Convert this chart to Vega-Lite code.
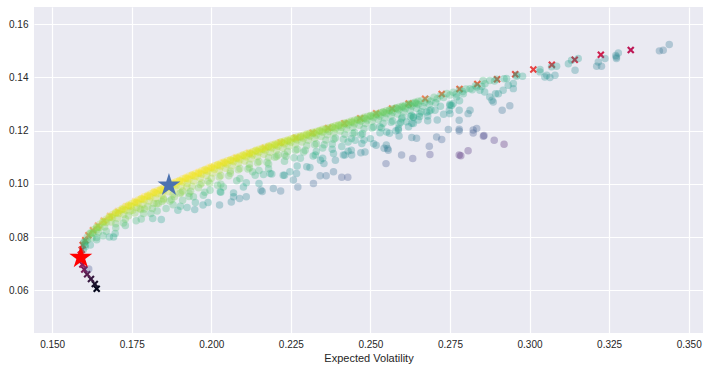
{
"$schema":"https://vega.github.io/schema/vega-lite/v6.json",
"width":669,"height":326,
"autosize":{"type":"none"},
"padding":{"left":34,"top":7,"right":7,"bottom":37},
"background":"white",
"config":{
"view":{"fill":"#EAEAF2","stroke":null},
"font":"Liberation Sans",
"axis":{"domain":false,"ticks":false,"grid":true,"gridColor":"white","gridWidth":1.2,"labelColor":"#262626","labelFontSize":10,"labelFont":"Liberation Sans","titleFont":"Liberation Sans","titleColor":"#262626","titleFontSize":11,"titleFontWeight":"normal"}
},
"datasets":{
"ef":[
{"v":0.1640,"r":0.0605,"s":0.369},{"v":0.1634,"r":0.0623,"s":0.381},{"v":0.1622,"r":0.0642,"s":0.396},{"v":0.1610,"r":0.0660,"s":0.410},{"v":0.1601,"r":0.0678,"s":0.4235},{"v":0.1595,"r":0.0697,"s":0.437},{"v":0.1591,"r":0.0715,"s":0.449},{"v":0.1590,"r":0.0733,"s":0.461},{"v":0.1593,"r":0.0752,"s":0.472},{"v":0.1596,"r":0.0770,"s":0.482},
{"v":0.1604,"r":0.0788,"s":0.491},{"v":0.1614,"r":0.0807,"s":0.500},{"v":0.1628,"r":0.0825,"s":0.507},{"v":0.1644,"r":0.0843,"s":0.513},{"v":0.1662,"r":0.0862,"s":0.519},{"v":0.1682,"r":0.0880,"s":0.523},{"v":0.1707,"r":0.0898,"s":0.526},{"v":0.1733,"r":0.0917,"s":0.529},{"v":0.1761,"r":0.0935,"s":0.531},{"v":0.1789,"r":0.0953,"s":0.533},
{"v":0.1822,"r":0.0972,"s":0.533},{"v":0.1855,"r":0.0990,"s":0.534},{"v":0.1889,"r":0.1008,"s":0.534},{"v":0.1925,"r":0.1027,"s":0.5335},{"v":0.1960,"r":0.1045,"s":0.533},{"v":0.1996,"r":0.1063,"s":0.5326},{"v":0.2038,"r":0.1082,"s":0.531},{"v":0.2078,"r":0.1100,"s":0.529},{"v":0.2118,"r":0.1118,"s":0.528},{"v":0.2168,"r":0.1137,"s":0.5245},
{"v":0.2217,"r":0.1155,"s":0.521},{"v":0.2266,"r":0.1173,"s":0.5177},{"v":0.2318,"r":0.1192,"s":0.514},{"v":0.2367,"r":0.1210,"s":0.511},{"v":0.2418,"r":0.1228,"s":0.508},{"v":0.2468,"r":0.1247,"s":0.505},{"v":0.2518,"r":0.1265,"s":0.502},{"v":0.2568,"r":0.1283,"s":0.4996},{"v":0.2620,"r":0.1302,"s":0.497},{"v":0.2672,"r":0.1320,"s":0.494},
{"v":0.2724,"r":0.1338,"s":0.491},{"v":0.2780,"r":0.1357,"s":0.488},{"v":0.2836,"r":0.1375,"s":0.485},{"v":0.2898,"r":0.1393,"s":0.481},{"v":0.2955,"r":0.1412,"s":0.478},{"v":0.3012,"r":0.1430,"s":0.475},{"v":0.3070,"r":0.1448,"s":0.4717},{"v":0.3142,"r":0.1467,"s":0.467},{"v":0.3224,"r":0.1485,"s":0.4606},{"v":0.3318,"r":0.1503,"s":0.453}
],
"pts":[
{"v":0.160,"r":0.0778,"s":0.486},{"v":0.162,"r":0.0812,"s":0.501},{"v":0.164,"r":0.0835,"s":0.509},{"v":0.166,"r":0.0856,"s":0.516},{"v":0.168,"r":0.0873,"s":0.520},{"v":0.170,"r":0.0890,"s":0.524},{"v":0.172,"r":0.0903,"s":0.525},{"v":0.174,"r":0.0918,"s":0.528},{"v":0.176,"r":0.0929,"s":0.528},{"v":0.178,"r":0.0943,"s":0.530},
{"v":0.180,"r":0.0953,"s":0.529},{"v":0.182,"r":0.0967,"s":0.531},{"v":0.184,"r":0.0976,"s":0.530},{"v":0.186,"r":0.0990,"s":0.532},{"v":0.188,"r":0.0999,"s":0.531},{"v":0.190,"r":0.1011,"s":0.532},{"v":0.192,"r":0.1020,"s":0.531},{"v":0.194,"r":0.1032,"s":0.532},{"v":0.196,"r":0.1040,"s":0.531},{"v":0.198,"r":0.1052,"s":0.531},
{"v":0.200,"r":0.1060,"s":0.530},{"v":0.202,"r":0.1071,"s":0.530},{"v":0.204,"r":0.1078,"s":0.528},{"v":0.206,"r":0.1089,"s":0.529},{"v":0.208,"r":0.1096,"s":0.527},{"v":0.210,"r":0.1107,"s":0.527},{"v":0.212,"r":0.1113,"s":0.525},{"v":0.214,"r":0.1124,"s":0.525},{"v":0.216,"r":0.1130,"s":0.523},{"v":0.218,"r":0.1140,"s":0.523},
{"v":0.220,"r":0.1146,"s":0.521},{"v":0.222,"r":0.1156,"s":0.521},{"v":0.224,"r":0.1161,"s":0.518},{"v":0.226,"r":0.1171,"s":0.518},{"v":0.228,"r":0.1176,"s":0.516},{"v":0.230,"r":0.1185,"s":0.515},{"v":0.232,"r":0.1190,"s":0.513},{"v":0.234,"r":0.1199,"s":0.512},{"v":0.236,"r":0.1204,"s":0.510},{"v":0.238,"r":0.1213,"s":0.510},
{"v":0.240,"r":0.1218,"s":0.508},{"v":0.242,"r":0.1227,"s":0.507},{"v":0.244,"r":0.1232,"s":0.505},{"v":0.246,"r":0.1241,"s":0.504},{"v":0.248,"r":0.1246,"s":0.502},{"v":0.250,"r":0.1255,"s":0.502},{"v":0.252,"r":0.1260,"s":0.500},{"v":0.254,"r":0.1269,"s":0.500},{"v":0.256,"r":0.1275,"s":0.498},{"v":0.258,"r":0.1284,"s":0.498},
{"v":0.260,"r":0.1289,"s":0.496},{"v":0.262,"r":0.1298,"s":0.495},{"v":0.264,"r":0.1303,"s":0.494},{"v":0.266,"r":0.1312,"s":0.493},{"v":0.268,"r":0.1317,"s":0.491},{"v":0.270,"r":0.1326,"s":0.491},{"v":0.272,"r":0.1331,"s":0.489},{"v":0.274,"r":0.1340,"s":0.489},{"v":0.276,"r":0.1344,"s":0.487},{"v":0.278,"r":0.1353,"s":0.487},
{"v":0.280,"r":0.1357,"s":0.485},{"v":0.283,"r":0.1369,"s":0.484},{"v":0.286,"r":0.1376,"s":0.481},{"v":0.289,"r":0.1387,"s":0.480},{"v":0.292,"r":0.1395,"s":0.478},{"v":0.296,"r":0.1409,"s":0.476},
{"v":0.161,"r":0.0788,"s":0.489},{"v":0.163,"r":0.0815,"s":0.500},{"v":0.165,"r":0.0837,"s":0.507},{"v":0.167,"r":0.0855,"s":0.512},{"v":0.169,"r":0.0872,"s":0.516},{"v":0.171,"r":0.0888,"s":0.519},{"v":0.173,"r":0.0901,"s":0.521},{"v":0.175,"r":0.0915,"s":0.523},{"v":0.177,"r":0.0927,"s":0.524},{"v":0.179,"r":0.0940,"s":0.525},
{"v":0.181,"r":0.0950,"s":0.525},{"v":0.183,"r":0.0963,"s":0.526},{"v":0.185,"r":0.0973,"s":0.526},{"v":0.187,"r":0.0986,"s":0.527},{"v":0.189,"r":0.0995,"s":0.526},{"v":0.191,"r":0.1007,"s":0.527},{"v":0.193,"r":0.1016,"s":0.526},{"v":0.195,"r":0.1028,"s":0.527},{"v":0.197,"r":0.1036,"s":0.526},{"v":0.199,"r":0.1047,"s":0.526},
{"v":0.201,"r":0.1055,"s":0.525},{"v":0.203,"r":0.1066,"s":0.525},{"v":0.205,"r":0.1074,"s":0.524},{"v":0.207,"r":0.1084,"s":0.524},{"v":0.209,"r":0.1091,"s":0.522},{"v":0.211,"r":0.1101,"s":0.522},{"v":0.213,"r":0.1108,"s":0.520},{"v":0.215,"r":0.1119,"s":0.520},{"v":0.217,"r":0.1125,"s":0.518},{"v":0.219,"r":0.1135,"s":0.518},
{"v":0.221,"r":0.1141,"s":0.516},{"v":0.223,"r":0.1150,"s":0.516},{"v":0.225,"r":0.1156,"s":0.514},{"v":0.227,"r":0.1165,"s":0.513},{"v":0.229,"r":0.1170,"s":0.511},{"v":0.231,"r":0.1179,"s":0.510},{"v":0.233,"r":0.1184,"s":0.508},{"v":0.235,"r":0.1194,"s":0.508},{"v":0.237,"r":0.1198,"s":0.505},{"v":0.239,"r":0.1207,"s":0.505},
{"v":0.241,"r":0.1212,"s":0.503},{"v":0.243,"r":0.1221,"s":0.502},{"v":0.245,"r":0.1226,"s":0.500},{"v":0.247,"r":0.1235,"s":0.500},{"v":0.249,"r":0.1240,"s":0.498},{"v":0.251,"r":0.1249,"s":0.498},{"v":0.253,"r":0.1254,"s":0.496},{"v":0.255,"r":0.1264,"s":0.496},{"v":0.257,"r":0.1269,"s":0.494},{"v":0.259,"r":0.1278,"s":0.493},
{"v":0.261,"r":0.1283,"s":0.492},{"v":0.263,"r":0.1292,"s":0.491},{"v":0.265,"r":0.1298,"s":0.490},{"v":0.267,"r":0.1306,"s":0.489},{"v":0.269,"r":0.1311,"s":0.487},{"v":0.271,"r":0.1320,"s":0.487},{"v":0.273,"r":0.1325,"s":0.485},{"v":0.275,"r":0.1334,"s":0.485},{"v":0.277,"r":0.1338,"s":0.483},{"v":0.279,"r":0.1347,"s":0.483},
{"v":0.282,"r":0.1354,"s":0.480},{"v":0.285,"r":0.1366,"s":0.479},
{"v":0.1625,"r":0.0796,"s":0.490},{"v":0.1645,"r":0.0818,"s":0.497},{"v":0.1665,"r":0.0838,"s":0.503},{"v":0.1685,"r":0.0856,"s":0.508},{"v":0.1705,"r":0.0871,"s":0.511},{"v":0.1725,"r":0.0885,"s":0.513},{"v":0.1745,"r":0.0898,"s":0.515},{"v":0.1765,"r":0.0911,"s":0.516},{"v":0.1785,"r":0.0923,"s":0.517},{"v":0.1805,"r":0.0935,"s":0.518},
{"v":0.1825,"r":0.0947,"s":0.519},{"v":0.1845,"r":0.0958,"s":0.519},{"v":0.1865,"r":0.0970,"s":0.520},{"v":0.1885,"r":0.0980,"s":0.520},{"v":0.1905,"r":0.0991,"s":0.520},{"v":0.1925,"r":0.1001,"s":0.520},{"v":0.1945,"r":0.1011,"s":0.520},{"v":0.1965,"r":0.1021,"s":0.520},{"v":0.1985,"r":0.1031,"s":0.519},{"v":0.2005,"r":0.1041,"s":0.519},
{"v":0.2025,"r":0.1050,"s":0.519},{"v":0.2045,"r":0.1059,"s":0.518},{"v":0.2065,"r":0.1068,"s":0.517},{"v":0.2085,"r":0.1077,"s":0.517},{"v":0.2105,"r":0.1086,"s":0.516},{"v":0.2125,"r":0.1094,"s":0.515},{"v":0.2145,"r":0.1103,"s":0.514},{"v":0.2165,"r":0.1111,"s":0.513},{"v":0.2185,"r":0.1119,"s":0.512},{"v":0.2205,"r":0.1127,"s":0.511},
{"v":0.2225,"r":0.1135,"s":0.510},{"v":0.2245,"r":0.1142,"s":0.509},{"v":0.2265,"r":0.1150,"s":0.508},{"v":0.2285,"r":0.1157,"s":0.506},{"v":0.2305,"r":0.1164,"s":0.505},{"v":0.2325,"r":0.1171,"s":0.504},{"v":0.2345,"r":0.1178,"s":0.502},{"v":0.2365,"r":0.1185,"s":0.501},{"v":0.2385,"r":0.1192,"s":0.500},{"v":0.2405,"r":0.1199,"s":0.499},
{"v":0.2425,"r":0.1206,"s":0.497},{"v":0.2445,"r":0.1213,"s":0.496},{"v":0.2465,"r":0.1220,"s":0.495},{"v":0.2485,"r":0.1227,"s":0.494},{"v":0.2505,"r":0.1234,"s":0.493},{"v":0.2525,"r":0.1241,"s":0.491},{"v":0.2545,"r":0.1248,"s":0.490},{"v":0.2565,"r":0.1256,"s":0.490},{"v":0.2585,"r":0.1263,"s":0.489},{"v":0.2605,"r":0.1270,"s":0.488},
{"v":0.2625,"r":0.1277,"s":0.486},{"v":0.2645,"r":0.1284,"s":0.485},{"v":0.2665,"r":0.1291,"s":0.484},{"v":0.2685,"r":0.1298,"s":0.483},{"v":0.2705,"r":0.1305,"s":0.482},
{"v":0.164,"r":0.0798,"s":0.487},{"v":0.167,"r":0.0822,"s":0.492},{"v":0.170,"r":0.0850,"s":0.500},{"v":0.173,"r":0.0868,"s":0.502},{"v":0.176,"r":0.0890,"s":0.506},{"v":0.179,"r":0.0905,"s":0.506},{"v":0.182,"r":0.0926,"s":0.509},{"v":0.185,"r":0.0940,"s":0.508},{"v":0.188,"r":0.0960,"s":0.511},{"v":0.191,"r":0.0973,"s":0.509},
{"v":0.194,"r":0.0991,"s":0.511},{"v":0.197,"r":0.1003,"s":0.509},{"v":0.200,"r":0.1021,"s":0.5105},{"v":0.203,"r":0.1031,"s":0.508},{"v":0.206,"r":0.1048,"s":0.509},{"v":0.209,"r":0.1058,"s":0.506},{"v":0.212,"r":0.1074,"s":0.507},{"v":0.215,"r":0.1084,"s":0.504},{"v":0.218,"r":0.1099,"s":0.504},{"v":0.221,"r":0.1108,"s":0.501},
{"v":0.224,"r":0.1122,"s":0.501},{"v":0.227,"r":0.1130,"s":0.498},{"v":0.230,"r":0.1144,"s":0.497},{"v":0.233,"r":0.1151,"s":0.494},{"v":0.236,"r":0.1165,"s":0.494},{"v":0.239,"r":0.1172,"s":0.490},{"v":0.242,"r":0.1186,"s":0.490},{"v":0.245,"r":0.1193,"s":0.487},{"v":0.248,"r":0.1207,"s":0.487},{"v":0.251,"r":0.1214,"s":0.484},
{"v":0.254,"r":0.1228,"s":0.483},{"v":0.257,"r":0.1236,"s":0.481},{"v":0.260,"r":0.1250,"s":0.481},{"v":0.263,"r":0.1257,"s":0.478},{"v":0.266,"r":0.1271,"s":0.478},{"v":0.269,"r":0.1278,"s":0.475},{"v":0.272,"r":0.1292,"s":0.475},{"v":0.275,"r":0.1299,"s":0.472},{"v":0.278,"r":0.1312,"s":0.472},
{"v":0.168,"r":0.0800,"s":0.476},{"v":0.173,"r":0.0843,"s":0.487},{"v":0.178,"r":0.0868,"s":0.488},{"v":0.183,"r":0.0898,"s":0.491},{"v":0.188,"r":0.0921,"s":0.490},{"v":0.193,"r":0.0952,"s":0.493},{"v":0.198,"r":0.0968,"s":0.489},{"v":0.203,"r":0.0998,"s":0.492},{"v":0.208,"r":0.1012,"s":0.487},{"v":0.213,"r":0.1045,"s":0.491},
{"v":0.218,"r":0.1057,"s":0.485},{"v":0.223,"r":0.1085,"s":0.487},{"v":0.228,"r":0.1096,"s":0.481},{"v":0.233,"r":0.1122,"s":0.482},{"v":0.238,"r":0.1130,"s":0.475},{"v":0.243,"r":0.1157,"s":0.476},{"v":0.248,"r":0.1165,"s":0.470},{"v":0.253,"r":0.1192,"s":0.471},{"v":0.258,"r":0.1200,"s":0.465},{"v":0.263,"r":0.1228,"s":0.467},
{"v":0.268,"r":0.1237,"s":0.462},{"v":0.273,"r":0.1262,"s":0.462},
{"v":0.1604,"r":0.0763,"s":0.476},{"v":0.1615,"r":0.0680,"s":0.421},{"v":0.1598,"r":0.0752,"s":0.471},{"v":0.1603,"r":0.0770,"s":0.480},{"v":0.1640,"r":0.0826,"s":0.504},{"v":0.1693,"r":0.0800,"s":0.473},{"v":0.1698,"r":0.0813,"s":0.479},{"v":0.1724,"r":0.0853,"s":0.495},{"v":0.1764,"r":0.0861,"s":0.488},{"v":0.1753,"r":0.0901,"s":0.514},
{"v":0.1779,"r":0.0903,"s":0.508},{"v":0.1810,"r":0.0888,"s":0.491},{"v":0.1816,"r":0.0870,"s":0.479},{"v":0.1843,"r":0.0866,"s":0.470},{"v":0.1834,"r":0.0926,"s":0.505},{"v":0.1858,"r":0.0907,"s":0.488},{"v":0.1895,"r":0.0901,"s":0.475},{"v":0.1903,"r":0.0916,"s":0.481},{"v":0.1924,"r":0.0911,"s":0.4735},{"v":0.1910,"r":0.0938,"s":0.491},
{"v":0.1884,"r":0.0951,"s":0.505},{"v":0.1948,"r":0.0903,"s":0.4635},{"v":0.1974,"r":0.0920,"s":0.466},{"v":0.2026,"r":0.0920,"s":0.454},{"v":0.2063,"r":0.0932,"s":0.452},{"v":0.2089,"r":0.0945,"s":0.452},{"v":0.2110,"r":0.0951,"s":0.451},{"v":0.2070,"r":0.0951,"s":0.459},{"v":0.2101,"r":0.0988,"s":0.470},{"v":0.2156,"r":0.0976,"s":0.453},
{"v":0.2195,"r":0.0982,"s":0.447},{"v":0.2028,"r":0.0970,"s":0.478},{"v":0.2038,"r":0.0988,"s":0.485},{"v":0.1996,"r":0.0976,"s":0.489},{"v":0.1975,"r":0.0957,"s":0.4845},{"v":0.1944,"r":0.0951,"s":0.489},{"v":0.1923,"r":0.0988,"s":0.514},{"v":0.1902,"r":0.0964,"s":0.507},{"v":0.1850,"r":0.0945,"s":0.511},{"v":0.1829,"r":0.0926,"s":0.506},
{"v":0.1787,"r":0.0888,"s":0.497},{"v":0.1776,"r":0.0907,"s":0.511},
{"v":0.2160,"r":0.0971,"s":0.450},{"v":0.2218,"r":0.0973,"s":0.439},{"v":0.2272,"r":0.0988,"s":0.435},{"v":0.2321,"r":0.1001,"s":0.431},{"v":0.2342,"r":0.1030,"s":0.440},{"v":0.2361,"r":0.1030,"s":0.436},{"v":0.2384,"r":0.1045,"s":0.438},{"v":0.2410,"r":0.1025,"s":0.425},{"v":0.2429,"r":0.1025,"s":0.422},{"v":0.2518,"r":0.1145,"s":0.455},
{"v":0.2543,"r":0.1134,"s":0.446},{"v":0.2556,"r":0.1126,"s":0.4405},{"v":0.2549,"r":0.1076,"s":0.422},{"v":0.2598,"r":0.1108,"s":0.4265},{"v":0.2633,"r":0.1095,"s":0.416},{"v":0.2645,"r":0.1171,"s":0.443},{"v":0.2685,"r":0.1141,"s":0.425},{"v":0.2687,"r":0.1110,"s":0.413},{"v":0.2708,"r":0.1176,"s":0.434},{"v":0.2724,"r":0.1167,"s":0.428},
{"v":0.2745,"r":0.1204,"s":0.4386},{"v":0.2779,"r":0.1199,"s":0.431},{"v":0.2784,"r":0.1106,"s":0.397},{"v":0.2807,"r":0.1124,"s":0.400},{"v":0.2823,"r":0.1191,"s":0.422},{"v":0.2834,"r":0.1208,"s":0.426},{"v":0.2857,"r":0.1182,"s":0.414},{"v":0.2889,"r":0.1164,"s":0.403},{"v":0.2920,"r":0.1149,"s":0.3935},{"v":0.2914,"r":0.1277,"s":0.438},
{"v":0.2938,"r":0.1294,"s":0.440},{"v":0.2886,"r":0.1308,"s":0.453},{"v":0.2779,"r":0.1277,"s":0.4595},{"v":0.2813,"r":0.1277,"s":0.454},{"v":0.2750,"r":0.1264,"s":0.4596},{"v":0.2755,"r":0.1295,"s":0.470},{"v":0.2703,"r":0.1277,"s":0.472},{"v":0.2635,"r":0.1249,"s":0.474},{"v":0.2613,"r":0.1233,"s":0.472},{"v":0.2588,"r":0.1208,"s":0.467},
{"v":0.2551,"r":0.1195,"s":0.468},{"v":0.2483,"r":0.1120,"s":0.451},{"v":0.2440,"r":0.1126,"s":0.4615},{"v":0.2420,"r":0.1108,"s":0.458},{"v":0.2384,"r":0.1114,"s":0.467},{"v":0.2354,"r":0.1076,"s":0.457},{"v":0.2300,"r":0.1064,"s":0.4626},{"v":0.2268,"r":0.1039,"s":0.458},{"v":0.2247,"r":0.1045,"s":0.465},{"v":0.2226,"r":0.1032,"s":0.4636},
{"v":0.2258,"r":0.1014,"s":0.449},{"v":0.2185,"r":0.1039,"s":0.4755},{"v":0.2164,"r":0.1035,"s":0.478},{"v":0.2138,"r":0.1032,"s":0.4827},
{"v":0.3033,"r":0.1421,"s":0.4685},{"v":0.3048,"r":0.1402,"s":0.460},{"v":0.3064,"r":0.1400,"s":0.457},{"v":0.3080,"r":0.1408,"s":0.457},{"v":0.3069,"r":0.1440,"s":0.469},{"v":0.3085,"r":0.1442,"s":0.4674},{"v":0.3122,"r":0.1452,"s":0.465},{"v":0.3143,"r":0.1427,"s":0.454},{"v":0.3132,"r":0.1465,"s":0.468},{"v":0.3153,"r":0.1471,"s":0.4665},
{"v":0.3211,"r":0.1442,"s":0.449},{"v":0.3226,"r":0.1442,"s":0.447},{"v":0.3216,"r":0.1458,"s":0.453},{"v":0.3237,"r":0.1471,"s":0.454},{"v":0.3273,"r":0.1471,"s":0.449},{"v":0.3271,"r":0.1483,"s":0.453},{"v":0.3279,"r":0.1492,"s":0.455},{"v":0.3408,"r":0.1500,"s":0.440},{"v":0.3420,"r":0.1502,"s":0.439},{"v":0.3439,"r":0.1524,"s":0.443},
{"v":0.2959,"r":0.1405,"s":0.475},{"v":0.2978,"r":0.1405,"s":0.472},{"v":0.2928,"r":0.1396,"s":0.477},{"v":0.2949,"r":0.1377,"s":0.467},{"v":0.2949,"r":0.1358,"s":0.4605},{"v":0.2933,"r":0.1371,"s":0.4674},{"v":0.2917,"r":0.1352,"s":0.4635},{"v":0.2902,"r":0.1339,"s":0.4614},{"v":0.2875,"r":0.1327,"s":0.4616},{"v":0.2859,"r":0.1345,"s":0.470},
{"v":0.2844,"r":0.1352,"s":0.475},{"v":0.2834,"r":0.1364,"s":0.481},{"v":0.2813,"r":0.1358,"s":0.483},{"v":0.2792,"r":0.1339,"s":0.4796},{"v":0.2771,"r":0.1327,"s":0.479},{"v":0.2760,"r":0.1302,"s":0.472},{"v":0.2807,"r":0.1264,"s":0.450},{"v":0.2854,"r":0.1389,"s":0.4867},{"v":0.2875,"r":0.1389,"s":0.483},{"v":0.2896,"r":0.1393,"s":0.481},
{"v":0.3033,"r":0.1430,"s":0.4715},{"v":0.3054,"r":0.1408,"s":0.461},{"v":0.3273,"r":0.1477,"s":0.451},{"v":0.2882,"r":0.1314,"s":0.456},{"v":0.2893,"r":0.1339,"s":0.463},{"v":0.2823,"r":0.1202,"s":0.426},{"v":0.2855,"r":0.1179,"s":0.413},{"v":0.2779,"r":0.1108,"s":0.399},{"v":0.2779,"r":0.1205,"s":0.434},{"v":0.2779,"r":0.1239,"s":0.446},
{"v":0.2748,"r":0.1277,"s":0.465},{"v":0.2750,"r":0.1295,"s":0.471},{"v":0.2635,"r":0.1252,"s":0.475},{"v":0.2635,"r":0.1227,"s":0.466},{"v":0.2655,"r":0.1264,"s":0.476},{"v":0.2677,"r":0.1270,"s":0.474},{"v":0.2598,"r":0.1245,"s":0.479},{"v":0.2588,"r":0.1202,"s":0.464},{"v":0.2554,"r":0.1133,"s":0.4436},{"v":0.2441,"r":0.1108,"s":0.454},
{"v":0.2415,"r":0.1108,"s":0.459},{"v":0.2452,"r":0.1164,"s":0.475},{"v":0.2473,"r":0.1152,"s":0.466},{"v":0.2327,"r":0.1108,"s":0.476},{"v":0.2343,"r":0.1089,"s":0.465},
{"v":0.2200,"r":0.1100,"s":0.500},{"v":0.2230,"r":0.1110,"s":0.498},{"v":0.2260,"r":0.1098,"s":0.486},{"v":0.2290,"r":0.1120,"s":0.489},{"v":0.2320,"r":0.1105,"s":0.476},{"v":0.2350,"r":0.1135,"s":0.483},{"v":0.2380,"r":0.1150,"s":0.483},{"v":0.2410,"r":0.1140,"s":0.473},{"v":0.2440,"r":0.1170,"s":0.4795},{"v":0.2470,"r":0.1185,"s":0.480},
{"v":0.2500,"r":0.1170,"s":0.468},{"v":0.2530,"r":0.1215,"s":0.480},{"v":0.2560,"r":0.1190,"s":0.465},{"v":0.2590,"r":0.1225,"s":0.473},{"v":0.2620,"r":0.1215,"s":0.464},{"v":0.2650,"r":0.1240,"s":0.468},{"v":0.2680,"r":0.1255,"s":0.468},{"v":0.2710,"r":0.1240,"s":0.4576},{"v":0.2060,"r":0.1040,"s":0.505},{"v":0.2090,"r":0.1020,"s":0.488},
{"v":0.2120,"r":0.1060,"s":0.500},{"v":0.2150,"r":0.1050,"s":0.488},{"v":0.2180,"r":0.1075,"s":0.493},{"v":0.1990,"r":0.1010,"s":0.5075},{"v":0.2020,"r":0.0995,"s":0.4926},{"v":0.1960,"r":0.0985,"s":0.5026},{"v":0.1930,"r":0.0965,"s":0.500},{"v":0.1870,"r":0.0935,"s":0.500},{"v":0.1800,"r":0.0915,"s":0.508},{"v":0.1740,"r":0.0880,"s":0.506},
{"v":0.1700,"r":0.0835,"s":0.491},{"v":0.1660,"r":0.0805,"s":0.485},{"v":0.1640,"r":0.0790,"s":0.482},{"v":0.1620,"r":0.0770,"s":0.475},
{"v":0.160,"r":0.0780,"s":0.488},{"v":0.161,"r":0.0799,"s":0.496},{"v":0.162,"r":0.0815,"s":0.503},{"v":0.163,"r":0.0827,"s":0.507},{"v":0.164,"r":0.0838,"s":0.511},{"v":0.165,"r":0.0848,"s":0.514},{"v":0.166,"r":0.0858,"s":0.517},{"v":0.167,"r":0.0867,"s":0.519},{"v":0.168,"r":0.0877,"s":0.522},{"v":0.169,"r":0.0885,"s":0.524},
{"v":0.170,"r":0.0892,"s":0.525},{"v":0.171,"r":0.0899,"s":0.526},{"v":0.172,"r":0.0907,"s":0.527},{"v":0.173,"r":0.0914,"s":0.528},{"v":0.174,"r":0.0920,"s":0.529},{"v":0.175,"r":0.0926,"s":0.529},{"v":0.176,"r":0.0933,"s":0.530},{"v":0.177,"r":0.0939,"s":0.531},{"v":0.178,"r":0.0945,"s":0.531},{"v":0.179,"r":0.0951,"s":0.531},
{"v":0.180,"r":0.0957,"s":0.532},{"v":0.181,"r":0.0963,"s":0.532},{"v":0.182,"r":0.0969,"s":0.532},{"v":0.183,"r":0.0974,"s":0.532},{"v":0.184,"r":0.0980,"s":0.533},{"v":0.185,"r":0.0986,"s":0.533},{"v":0.186,"r":0.0992,"s":0.533},{"v":0.187,"r":0.0997,"s":0.533},{"v":0.188,"r":0.1003,"s":0.534},{"v":0.189,"r":0.1008,"s":0.533},
{"v":0.190,"r":0.1013,"s":0.533},{"v":0.191,"r":0.1019,"s":0.534},{"v":0.192,"r":0.1024,"s":0.533},{"v":0.193,"r":0.1029,"s":0.533},{"v":0.194,"r":0.1034,"s":0.533},{"v":0.195,"r":0.1039,"s":0.533},{"v":0.196,"r":0.1044,"s":0.533},{"v":0.197,"r":0.1049,"s":0.532},{"v":0.198,"r":0.1054,"s":0.532},{"v":0.199,"r":0.1059,"s":0.532},
{"v":0.200,"r":0.1064,"s":0.532},{"v":0.201,"r":0.1068,"s":0.531},{"v":0.202,"r":0.1073,"s":0.531},{"v":0.203,"r":0.1077,"s":0.531},{"v":0.204,"r":0.1082,"s":0.530},{"v":0.205,"r":0.1087,"s":0.530},{"v":0.206,"r":0.1091,"s":0.530},{"v":0.207,"r":0.1095,"s":0.529},{"v":0.208,"r":0.1100,"s":0.529},{"v":0.209,"r":0.1104,"s":0.528},
{"v":0.210,"r":0.1109,"s":0.528},{"v":0.211,"r":0.1113,"s":0.527},{"v":0.212,"r":0.1117,"s":0.527},{"v":0.213,"r":0.1121,"s":0.526},{"v":0.214,"r":0.1126,"s":0.526},{"v":0.215,"r":0.1130,"s":0.526},{"v":0.216,"r":0.1134,"s":0.525},{"v":0.217,"r":0.1138,"s":0.524},{"v":0.218,"r":0.1142,"s":0.524},{"v":0.219,"r":0.1146,"s":0.523},
{"v":0.220,"r":0.1150,"s":0.523},{"v":0.221,"r":0.1154,"s":0.522},{"v":0.222,"r":0.1158,"s":0.522},{"v":0.223,"r":0.1161,"s":0.521},{"v":0.224,"r":0.1165,"s":0.520},{"v":0.225,"r":0.1169,"s":0.520},{"v":0.226,"r":0.1173,"s":0.519},{"v":0.227,"r":0.1176,"s":0.518},{"v":0.228,"r":0.1180,"s":0.518},{"v":0.229,"r":0.1183,"s":0.517},
{"v":0.230,"r":0.1187,"s":0.516},{"v":0.231,"r":0.1190,"s":0.515},{"v":0.232,"r":0.1194,"s":0.515},{"v":0.233,"r":0.1197,"s":0.514},{"v":0.234,"r":0.1201,"s":0.513},{"v":0.235,"r":0.1205,"s":0.513},{"v":0.236,"r":0.1208,"s":0.512},{"v":0.237,"r":0.1211,"s":0.511},{"v":0.238,"r":0.1215,"s":0.510},{"v":0.239,"r":0.1218,"s":0.510},
{"v":0.240,"r":0.1222,"s":0.509},{"v":0.241,"r":0.1225,"s":0.508},{"v":0.242,"r":0.1229,"s":0.508},{"v":0.243,"r":0.1232,"s":0.507},{"v":0.244,"r":0.1236,"s":0.507},{"v":0.245,"r":0.1239,"s":0.506},{"v":0.246,"r":0.1243,"s":0.505},{"v":0.247,"r":0.1246,"s":0.504},{"v":0.248,"r":0.1250,"s":0.504},{"v":0.249,"r":0.1253,"s":0.503},
{"v":0.250,"r":0.1257,"s":0.503},{"v":0.251,"r":0.1260,"s":0.502},{"v":0.252,"r":0.1264,"s":0.502},{"v":0.253,"r":0.1267,"s":0.501},{"v":0.254,"r":0.1271,"s":0.500},{"v":0.255,"r":0.1275,"s":0.500},{"v":0.256,"r":0.1279,"s":0.500},{"v":0.257,"r":0.1282,"s":0.499},{"v":0.258,"r":0.1286,"s":0.498},{"v":0.259,"r":0.1289,"s":0.498},
{"v":0.260,"r":0.1293,"s":0.497},{"v":0.261,"r":0.1296,"s":0.497},{"v":0.262,"r":0.1300,"s":0.496},{"v":0.263,"r":0.1303,"s":0.495},{"v":0.264,"r":0.1307,"s":0.495},{"v":0.265,"r":0.1311,"s":0.495},
{"v":0.1605,"r":0.0783,"s":0.488},{"v":0.1625,"r":0.0815,"s":0.502},{"v":0.1645,"r":0.0837,"s":0.509},{"v":0.1665,"r":0.0857,"s":0.515},{"v":0.1685,"r":0.0875,"s":0.519},{"v":0.1705,"r":0.0890,"s":0.522},{"v":0.1725,"r":0.0904,"s":0.524},{"v":0.1745,"r":0.0917,"s":0.526},{"v":0.1765,"r":0.0930,"s":0.527},{"v":0.1785,"r":0.0942,"s":0.528},
{"v":0.1805,"r":0.0954,"s":0.529},{"v":0.1825,"r":0.0966,"s":0.529},{"v":0.1845,"r":0.0977,"s":0.530},{"v":0.1865,"r":0.0989,"s":0.530},{"v":0.1885,"r":0.0999,"s":0.530},{"v":0.1905,"r":0.1010,"s":0.530},{"v":0.1925,"r":0.1020,"s":0.530},{"v":0.1945,"r":0.1030,"s":0.530},{"v":0.1965,"r":0.1040,"s":0.529},{"v":0.1985,"r":0.1050,"s":0.529},
{"v":0.2005,"r":0.1060,"s":0.529},{"v":0.2025,"r":0.1069,"s":0.528},{"v":0.2045,"r":0.1078,"s":0.527},{"v":0.2065,"r":0.1087,"s":0.526},{"v":0.2085,"r":0.1096,"s":0.526},{"v":0.2105,"r":0.1105,"s":0.525},{"v":0.2125,"r":0.1113,"s":0.524},{"v":0.2145,"r":0.1122,"s":0.523},{"v":0.2165,"r":0.1130,"s":0.522},{"v":0.2185,"r":0.1138,"s":0.521},
{"v":0.2205,"r":0.1146,"s":0.520},{"v":0.2225,"r":0.1154,"s":0.519},{"v":0.2245,"r":0.1161,"s":0.517},{"v":0.2265,"r":0.1169,"s":0.516},{"v":0.2285,"r":0.1176,"s":0.515},{"v":0.2305,"r":0.1183,"s":0.513},{"v":0.2325,"r":0.1190,"s":0.512},{"v":0.2345,"r":0.1197,"s":0.510},{"v":0.2365,"r":0.1204,"s":0.509},{"v":0.2385,"r":0.1211,"s":0.508},
{"v":0.2405,"r":0.1218,"s":0.506},{"v":0.2425,"r":0.1225,"s":0.505},{"v":0.2445,"r":0.1232,"s":0.504},{"v":0.2465,"r":0.1239,"s":0.503},{"v":0.2485,"r":0.1246,"s":0.501},{"v":0.2505,"r":0.1253,"s":0.500},{"v":0.2525,"r":0.1260,"s":0.499},{"v":0.2545,"r":0.1267,"s":0.498},{"v":0.2565,"r":0.1275,"s":0.497},{"v":0.2585,"r":0.1282,"s":0.496},
{"v":0.2605,"r":0.1289,"s":0.495},{"v":0.2625,"r":0.1296,"s":0.494},{"v":0.2645,"r":0.1303,"s":0.493},
{"v":0.1815,"r":0.0907,"s":0.4997},{"v":0.1845,"r":0.0934,"s":0.506},{"v":0.1875,"r":0.0941,"s":0.502},{"v":0.1905,"r":0.0967,"s":0.5076},{"v":0.1935,"r":0.0972,"s":0.502},{"v":0.1965,"r":0.0997,"s":0.5074},{"v":0.1995,"r":0.1002,"s":0.502},{"v":0.2025,"r":0.1026,"s":0.5067},{"v":0.2055,"r":0.1030,"s":0.501},{"v":0.2085,"r":0.1053,"s":0.505},
{"v":0.2115,"r":0.1056,"s":0.499},{"v":0.2145,"r":0.1079,"s":0.503},{"v":0.2175,"r":0.1081,"s":0.497},{"v":0.2205,"r":0.1103,"s":0.500},{"v":0.2235,"r":0.1104,"s":0.494},{"v":0.2265,"r":0.1126,"s":0.497},{"v":0.2295,"r":0.1126,"s":0.491},{"v":0.2325,"r":0.1147,"s":0.4933},{"v":0.2355,"r":0.1147,"s":0.487},{"v":0.2385,"r":0.1168,"s":0.4897},
{"v":0.2415,"r":0.1168,"s":0.484},{"v":0.2445,"r":0.1189,"s":0.4863},{"v":0.2475,"r":0.1189,"s":0.480},{"v":0.2505,"r":0.1210,"s":0.483},{"v":0.2535,"r":0.1210,"s":0.477},{"v":0.2565,"r":0.1232,"s":0.4803},{"v":0.2595,"r":0.1232,"s":0.475},{"v":0.2625,"r":0.1253,"s":0.4773},{"v":0.2655,"r":0.1253,"s":0.472},{"v":0.2685,"r":0.1274,"s":0.4745},
{"v":0.195,"r":0.0930,"s":0.477},{"v":0.199,"r":0.0930,"s":0.467},{"v":0.203,"r":0.0968,"s":0.477},{"v":0.207,"r":0.0966,"s":0.467},{"v":0.211,"r":0.1004,"s":0.476},{"v":0.215,"r":0.1001,"s":0.4656},{"v":0.219,"r":0.1037,"s":0.4735},{"v":0.223,"r":0.1032,"s":0.4628},{"v":0.227,"r":0.1067,"s":0.470},{"v":0.231,"r":0.1061,"s":0.4593},
{"v":0.235,"r":0.1096,"s":0.466},{"v":0.239,"r":0.1089,"s":0.4556},{"v":0.243,"r":0.1123,"s":0.462},{"v":0.247,"r":0.1117,"s":0.4522},{"v":0.251,"r":0.1151,"s":0.4586},{"v":0.255,"r":0.1146,"s":0.4494},{"v":0.259,"r":0.1180,"s":0.4556},{"v":0.263,"r":0.1174,"s":0.4464}
],
"stars":[
{"v":0.1590,"r":0.0723,"kind":"Minimum volatility"},
{"v":0.1867,"r":0.0995,"kind":"Maximum Sharpe ratio"}
]
},
"encoding":{
"x":{"field":"v","type":"quantitative","scale":{"domain":[0.1443,0.3545],"nice":false,"zero":false},"axis":{"values":[0.15,0.175,0.2,0.225,0.25,0.275,0.3,0.325,0.35],"format":".3f","title":"Expected Volatility","labelPadding":6,"titlePadding":3}},
"y":{"field":"r","type":"quantitative","scale":{"domain":[0.0439,0.1665],"nice":false,"zero":false},"axis":{"values":[0.06,0.08,0.1,0.12,0.14,0.16],"format":".2f","title":null,"labelPadding":6}}
},
"layer":[
{"data":{"name":"ef"},
"mark":{"type":"point","shape":"M-1,-0.6L-0.6,-1L0,-0.4L0.6,-1L1,-0.6L0.4,0L1,0.6L0.6,1L0,0.4L-0.6,1L-1,0.6L-0.4,0Z","filled":true,"opacity":1,"size":56},
"encoding":{"color":{"field":"s","type":"quantitative","scale":{"domain":[0.369,0.3855,0.402,0.4185,0.435,0.4515,0.468,0.4845,0.501,0.5175,0.534],"range":["#03051a","#221331","#451c47","#6a1f56","#921c5b","#b91657","#dd2c45","#f06043","#f5936a","#f6bc9a","#faebdd"]},"legend":null}}},
{"data":{"name":"pts"},
"mark":{"type":"circle","size":56,"opacity":0.3},
"encoding":{"color":{"field":"s","type":"quantitative","scale":{"scheme":"viridis","domain":[0.385,0.534]},"legend":null}}},
{"data":{"name":"stars"},
"mark":{"type":"point","shape":"M0,-1L0.2245,-0.309L0.951,-0.309L0.363,0.118L0.588,0.809L0,0.382L-0.588,0.809L-0.363,0.118L-0.951,-0.309L-0.2245,-0.309Z","filled":true,"opacity":1,"size":585},
"encoding":{"color":{"field":"kind","type":"nominal","scale":{"domain":["Minimum volatility","Maximum Sharpe ratio"],"range":["#FF0000","#4C72B0"]},"legend":null}}}
],
"resolve":{"scale":{"color":"independent"}}
}
